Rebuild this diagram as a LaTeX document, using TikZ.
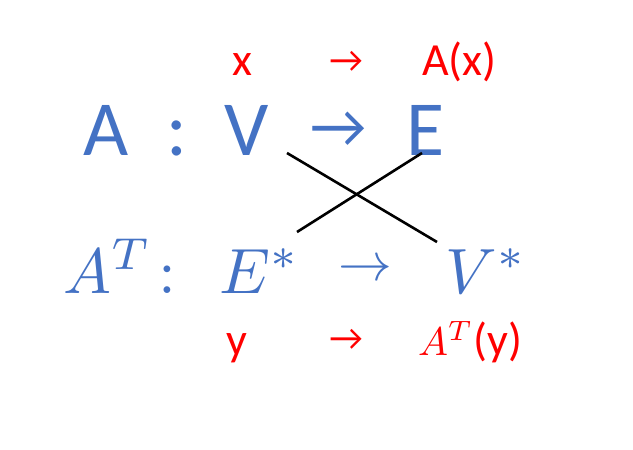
\documentclass[tikz,border=0pt]{standalone}
\usepackage{fontspec}
\setmainfont{Carlito}
\usepackage{amsmath}
\usetikzlibrary{calc}
\definecolor{blu}{HTML}{4472C4}
\tikzset{
  toprow/.style={text=blu, inner sep=0pt, font=\fontsize{78}{78}\selectfont},
  toparr/.style={text=blu, inner sep=0pt, font=\fontsize{62}{62}\selectfont},
  botrow/.style={text=blu, inner sep=0pt, font=\fontsize{10}{10}\selectfont, scale=6.4},
  redtxt/.style={text=red, inner sep=0pt, font=\fontsize{46}{46}\selectfont},
  redarr/.style={text=red, inner sep=0pt, font=\fontsize{37}{37}\selectfont},
  cross/.style={black, line width=2.6pt}
}

\begin{document}
\begin{tikzpicture}[x=1pt, y=-1pt]
\useasboundingbox (0,0) rectangle (633,450);
% map A
\node[toprow, anchor=base] (A)   at (106.5,155) {A};
\node[toprow, anchor=base] (cln) at (177,155) {:};
\node[toprow, anchor=base] (V)   at (246.5,155) {V};
\node[toparr]              (arr) at (338.5,130) {→};
\node[toprow, anchor=base] (E)   at (426,155) {E};
% its transpose
\node[botrow, anchor=base] (AT)   at (107.5,293) {$A^T$};
\node[botrow, anchor=base] (clnb) at (167,293) {$:$};
\node[botrow, anchor=base] (Es)   at (259.5,293) {$E^*$};
\node[botrow, scale=0.84]  (arrb) at (365,271) {$\rightarrow$};
\node[botrow, anchor=base] (Vs)   at (486,293) {$V^*$};
% elements
\node[redtxt, anchor=base] (x)    at (242,75) {x};
\node[redarr]              (xarr) at (346,62) {→};
\node[redtxt, anchor=base] (Ax)   at (459.5,75) {A(x)};
\node[redtxt, anchor=base] (y)    at (237,355) {y};
\node[redarr]              (yarr) at (346,340) {→};
\node[redtxt, anchor=base, font=\fontsize{10}{10}\selectfont, scale=4.0] (ATy) at (470,355) {$A^T$\fontsize{11.5}{11.5}\selectfont(y)};
% the cross
\coordinate (c1) at (287,153);
\coordinate (c2) at (437,242);
\coordinate (c3) at (422,153);
\coordinate (c4) at (297,232);
\draw[cross] (c1) -- (c2);
\draw[cross] (c3) -- (c4);
\end{tikzpicture}
\end{document}
